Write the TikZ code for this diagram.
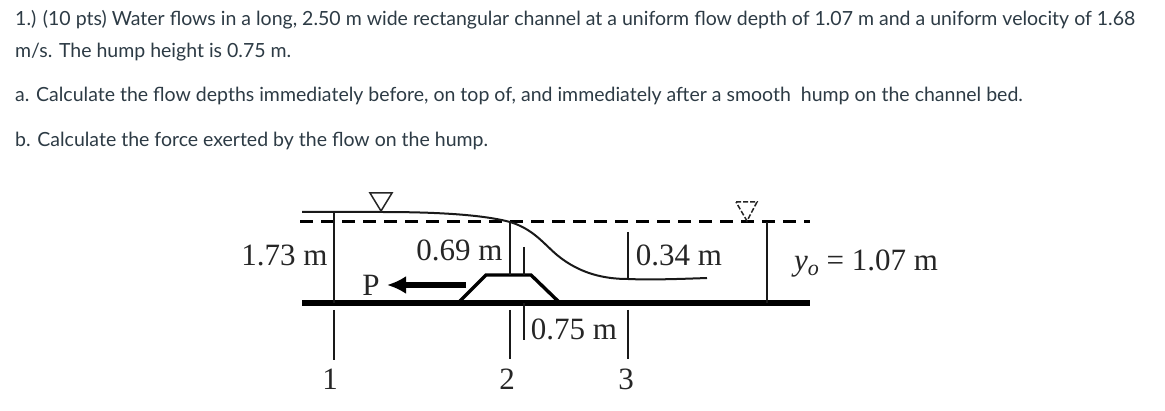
\documentclass[tikz,border=0pt]{standalone}
\usepackage{fontspec}
\setmainfont{Lato}
\newfontfamily\figfont{Liberation Serif}
\definecolor{ink}{HTML}{2D3B45}
\usetikzlibrary{arrows.meta}
\tikzset{
  x=1pt,y=-1pt,
  prose/.style={anchor=base west,inner sep=0pt,text=ink,font=\fontsize{19.5}{20}\selectfont},
  figlabel/.style={anchor=base,inner sep=0pt,text=black!85,font=\figfont\fontsize{31}{32}\selectfont},
  section/.style={line width=2pt,black!90},
  bed/.style={line width=6pt,black},
  waterline/.style={line width=2pt,black!90},
  dashline/.style={line width=3pt,black,dash pattern=on 13pt off 8pt},
  hump/.style={line width=3.4pt,black,line join=miter},
  marker/.style={line width=1.5pt,black!85},
}
\begin{document}
\begin{tikzpicture}
\useasboundingbox (0,0) rectangle (1165,411);
\fill[white] (0,0) rectangle (1165,411);
% prose
\node[prose] (t1) at (15,25.5) {1.) (10 pts) Water flows in a long, 2.50 m wide rectangular channel at a uniform flow depth of 1.07 m and a uniform velocity of 1.68};
\node[prose] (t2) at (15,57.5) {m/s. The hump height is 0.75 m.};
\node[prose] (t3) at (15,101.5) {a. Calculate the flow depths immediately before, on top of, and immediately after a smooth\ \ hump on the channel bed.};
\node[prose] (t4) at (15,146.5) {b. Calculate the force exerted by the flow on the hump.};
% reference coordinates
\coordinate (bedL) at (302,303);
\coordinate (bedR) at (810,303);
\coordinate (dashL) at (300,222);
\coordinate (dashR) at (810,222);
\coordinate (s1top) at (334,212);
\coordinate (s1bed) at (334,303);
\coordinate (s1a) at (334,310);
\coordinate (s1b) at (334,360);
\coordinate (s2top) at (510,222);
\coordinate (s2bed) at (510,275);
\coordinate (s2a) at (510,310);
\coordinate (s2b) at (510,359);
\coordinate (s3top) at (628,232);
\coordinate (s3surf) at (628,279);
\coordinate (s3a) at (628,310);
\coordinate (s3b) at (628,359);
\coordinate (tkA) at (524,247);
\coordinate (tkB) at (524,275);
\coordinate (tkC) at (524,303);
\coordinate (tkD) at (524,340);
\coordinate (y0top) at (767,222);
\coordinate (y0bed) at (767,303);
\coordinate (wL) at (302,212);
\coordinate (wEnd) at (707,278);
\coordinate (pTail) at (466,285);
\coordinate (pHead) at (387,285);
% channel
\draw[dashline] (dashL) -- (dashR);
\draw[hump] (458,303) -- (486,275) -- (531,275) -- (560,303);
\draw[bed] (bedL) -- (bedR);
% water surface
\draw[waterline] (wL) -- (381,212) .. controls (430,212) and (480,214) .. (s2top)
  .. controls (533,229) and (543,243) .. (557,255)
  .. controls (580,274) and (605,279) .. (s3surf)
  .. controls (650,280) and (680,279) .. (wEnd);
% sections
\draw[section] (s1top) -- (s1bed);
\draw[section] (s1a) -- (s1b);
\draw[section] (s2top) -- (s2bed);
\draw[section] (s2a) -- (s2b);
\draw[section] (s3top) -- (s3surf);
\draw[section] (s3a) -- (s3b);
\draw[section] (tkA) -- (tkB);
\draw[section] (tkC) -- (tkD);
\draw[section] (y0top) -- (y0bed);
% free surface markers
\draw[marker] (370,193) -- (392,193) -- (381,211) -- cycle;
\draw[marker,dash pattern=on 5pt off 2pt] (736,202) -- (757,202) -- (747,221) -- cycle;
% force
\draw[line width=6pt,black,-{Latex[length=19pt,width=18pt]}] (pTail) -- (pHead);
% labels
\node[figlabel] (l173) at (284.5,266) {1.73 m};
\node[figlabel] (l069) at (459.5,261) {0.69 m};
\node[figlabel] (l034) at (679,266) {0.34 m};
\node[figlabel] (l075) at (574,340) {0.75 m};
\node[figlabel] (lP) at (371,296) {P};
\node[figlabel] (l1) at (330,390) {1};
\node[figlabel] (l2) at (507,390) {2};
\node[figlabel] (l3) at (626,390) {3};
\node[figlabel] (ly) at (866,271) {\textit{y\raisebox{-5pt}{\fontsize{22}{22}\selectfont\itshape o}} = 1.07 m};
\end{tikzpicture}
\end{document}
